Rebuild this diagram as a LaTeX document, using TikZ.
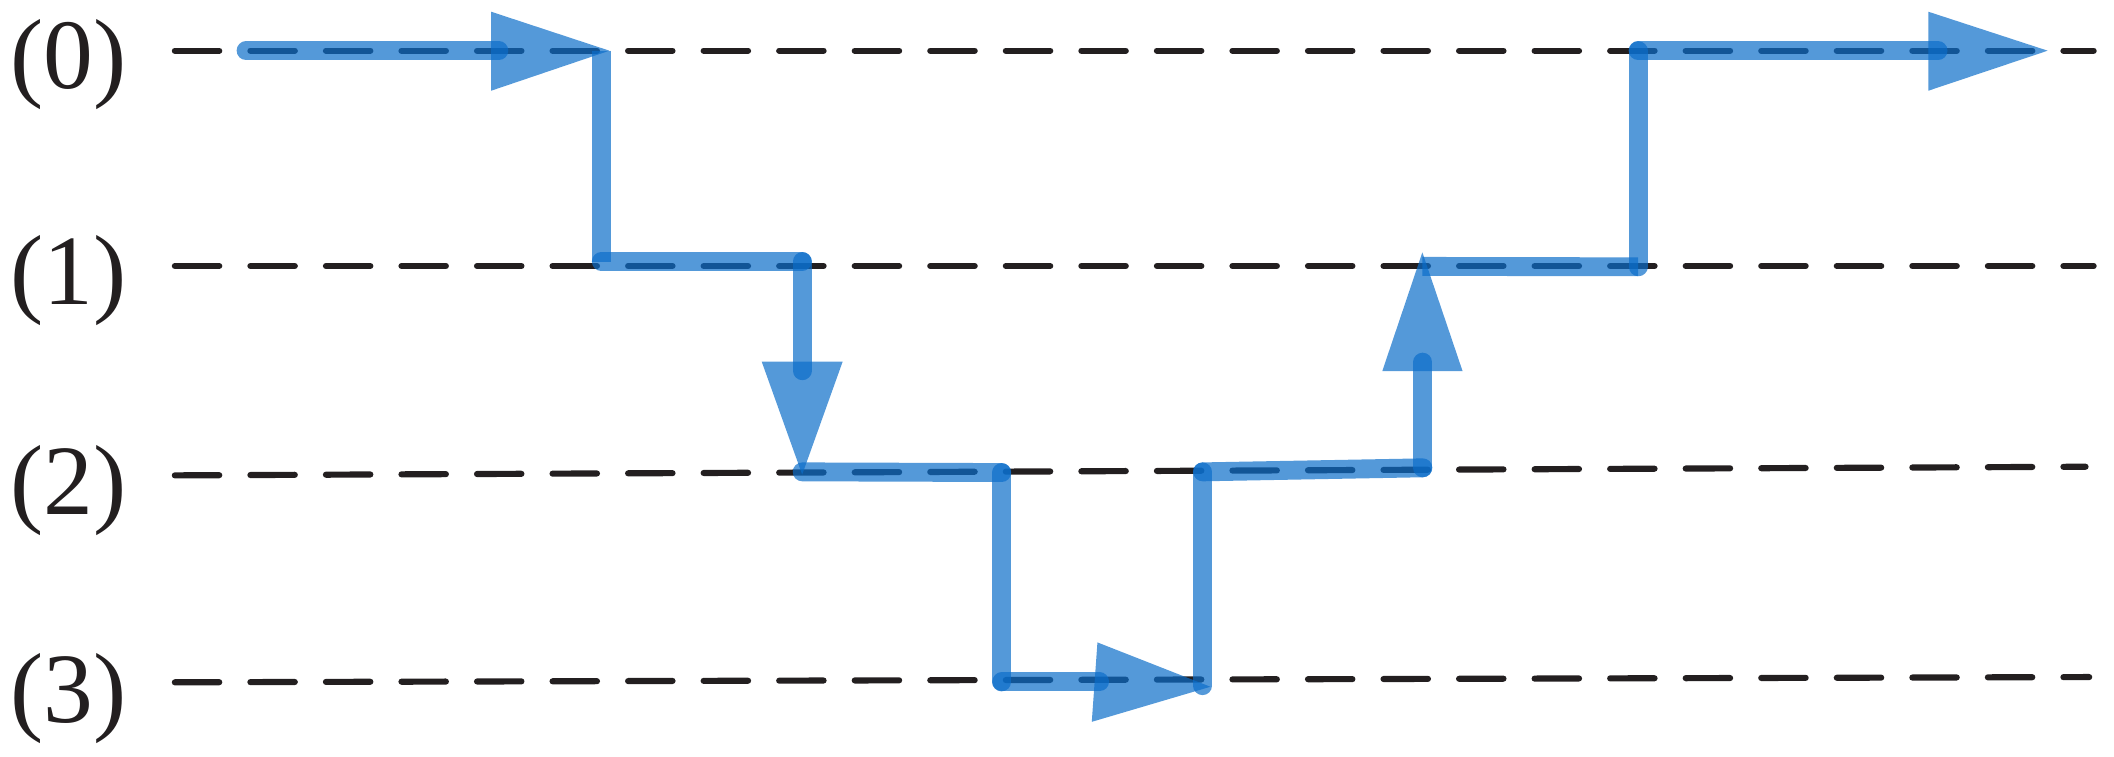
\documentclass[tikz,border=0pt]{standalone}
\usepackage{fontspec}
\setmainfont{Liberation Serif}
\definecolor{pathblue}{RGB}{11,109,201}
\definecolor{dashink}{RGB}{35,31,32}
\tikzset{
  level/.style={line width=1.3pt, line cap=round, dash pattern=on 0.329cm off 0.231cm, draw=dashink},
  pathseg/.style={line width=0.14cm, line cap=round, draw=pathblue, draw opacity=0.7},
  flatseg/.style={pathseg, line cap=butt},
  tipfill/.style={fill=pathblue, fill opacity=0.7},
  lab/.style={font=\fontsize{21}{21}\selectfont, anchor=base, inner sep=0pt, text=dashink}
}
\begin{document}
\begin{tikzpicture}[x=0.01cm, y=-0.01cm]
\useasboundingbox (0,0) rectangle (1568,561);
% level lines
\coordinate (L0a) at (129.7,37.6);  \coordinate (L0b) at (1552.9,37.6);
\coordinate (L1a) at (129.7,197.3); \coordinate (L1b) at (1552.9,197.3);
\coordinate (L2a) at (129.7,352.6); \coordinate (L2b) at (1546.9,346.2);
\coordinate (L3a) at (129.7,506.1); \coordinate (L3b) at (1549.6,502.2);
\draw[level] (L0a) -- (L0b);
\draw[level] (L1a) -- (L1b);
\draw[level] (L2a) -- (L2b);
\draw[level] (L3a) -- (L3b);
% labels
\node[lab] (n0) at (50.7,66)    {(0)};
\node[lab] (n1) at (50.7,225.8) {(1)};
\node[lab] (n2) at (50.7,381.3) {(2)};
\node[lab] (n3) at (50.7,535.6) {(3)};
% path points
\coordinate (p1) at (182.5,37.6);  \coordinate (p2) at (370,37.6);
\coordinate (p3) at (446,37.6);    \coordinate (p4) at (446,194);
\coordinate (p5) at (595,194);     \coordinate (p6) at (595,275);
\coordinate (p7) at (595,350);     \coordinate (p8) at (743,350.5);
\coordinate (p9) at (743,505.8);   \coordinate (p10) at (815.6,505.8);
\coordinate (p11) at (892,508.6);  \coordinate (p12) at (892,350);
\coordinate (p13) at (1055.4,347); \coordinate (p14) at (1055.4,268.6);
\coordinate (p15) at (1055,197.6); \coordinate (p16) at (1215,197.9);
\coordinate (p17) at (1215,37.6);  \coordinate (p18) at (1437.5,37.6);
% arrow heads
\coordinate (t1a) at (364.3,8.7);   \coordinate (t1b) at (364.3,67.3);  \coordinate (t1c) at (452,37.6);
\coordinate (t2a) at (565,268.3);   \coordinate (t2b) at (625,268.3);   \coordinate (t2c) at (595,352);
\coordinate (t3a) at (814,476.5);   \coordinate (t3b) at (809.8,535.4); \coordinate (t3c) at (897.8,509.4);
\coordinate (t4a) at (1025.3,275.2);\coordinate (t4b) at (1084.8,275.2);\coordinate (t4c) at (1055,187.2);
\coordinate (t5a) at (1430.3,8.7);  \coordinate (t5b) at (1430.3,67.3); \coordinate (t5c) at (1518.8,37.6);
% blue segments
\draw[pathseg] (p1) -- (p2);
\draw[flatseg] (p3) -- (p4);
\draw[pathseg] (p4) -- (p5);
\draw[pathseg] (p5) -- (p6);
\draw[pathseg] (p7) -- (p8);
\draw[pathseg] (p8) -- (p9);
\draw[pathseg] (p9) -- (p10);
\draw[pathseg] (p11) -- (p12);
\draw[pathseg] (p12) -- (p13);
\draw[pathseg] (p13) -- (p14);
\draw[flatseg] (p15) -- (p16);
\draw[pathseg] (p16) -- (p17);
\draw[pathseg] (p17) -- (p18);
% triangles
\fill[tipfill] (t1a) -- (t1c) -- (t1b) -- cycle;
\fill[tipfill] (t2a) -- (t2b) -- (t2c) -- cycle;
\fill[tipfill] (t3a) -- (t3c) -- (t3b) -- cycle;
\fill[tipfill] (t4a) -- (t4b) -- (t4c) -- cycle;
\fill[tipfill] (t5a) -- (t5c) -- (t5b) -- cycle;
\end{tikzpicture}
\end{document}
